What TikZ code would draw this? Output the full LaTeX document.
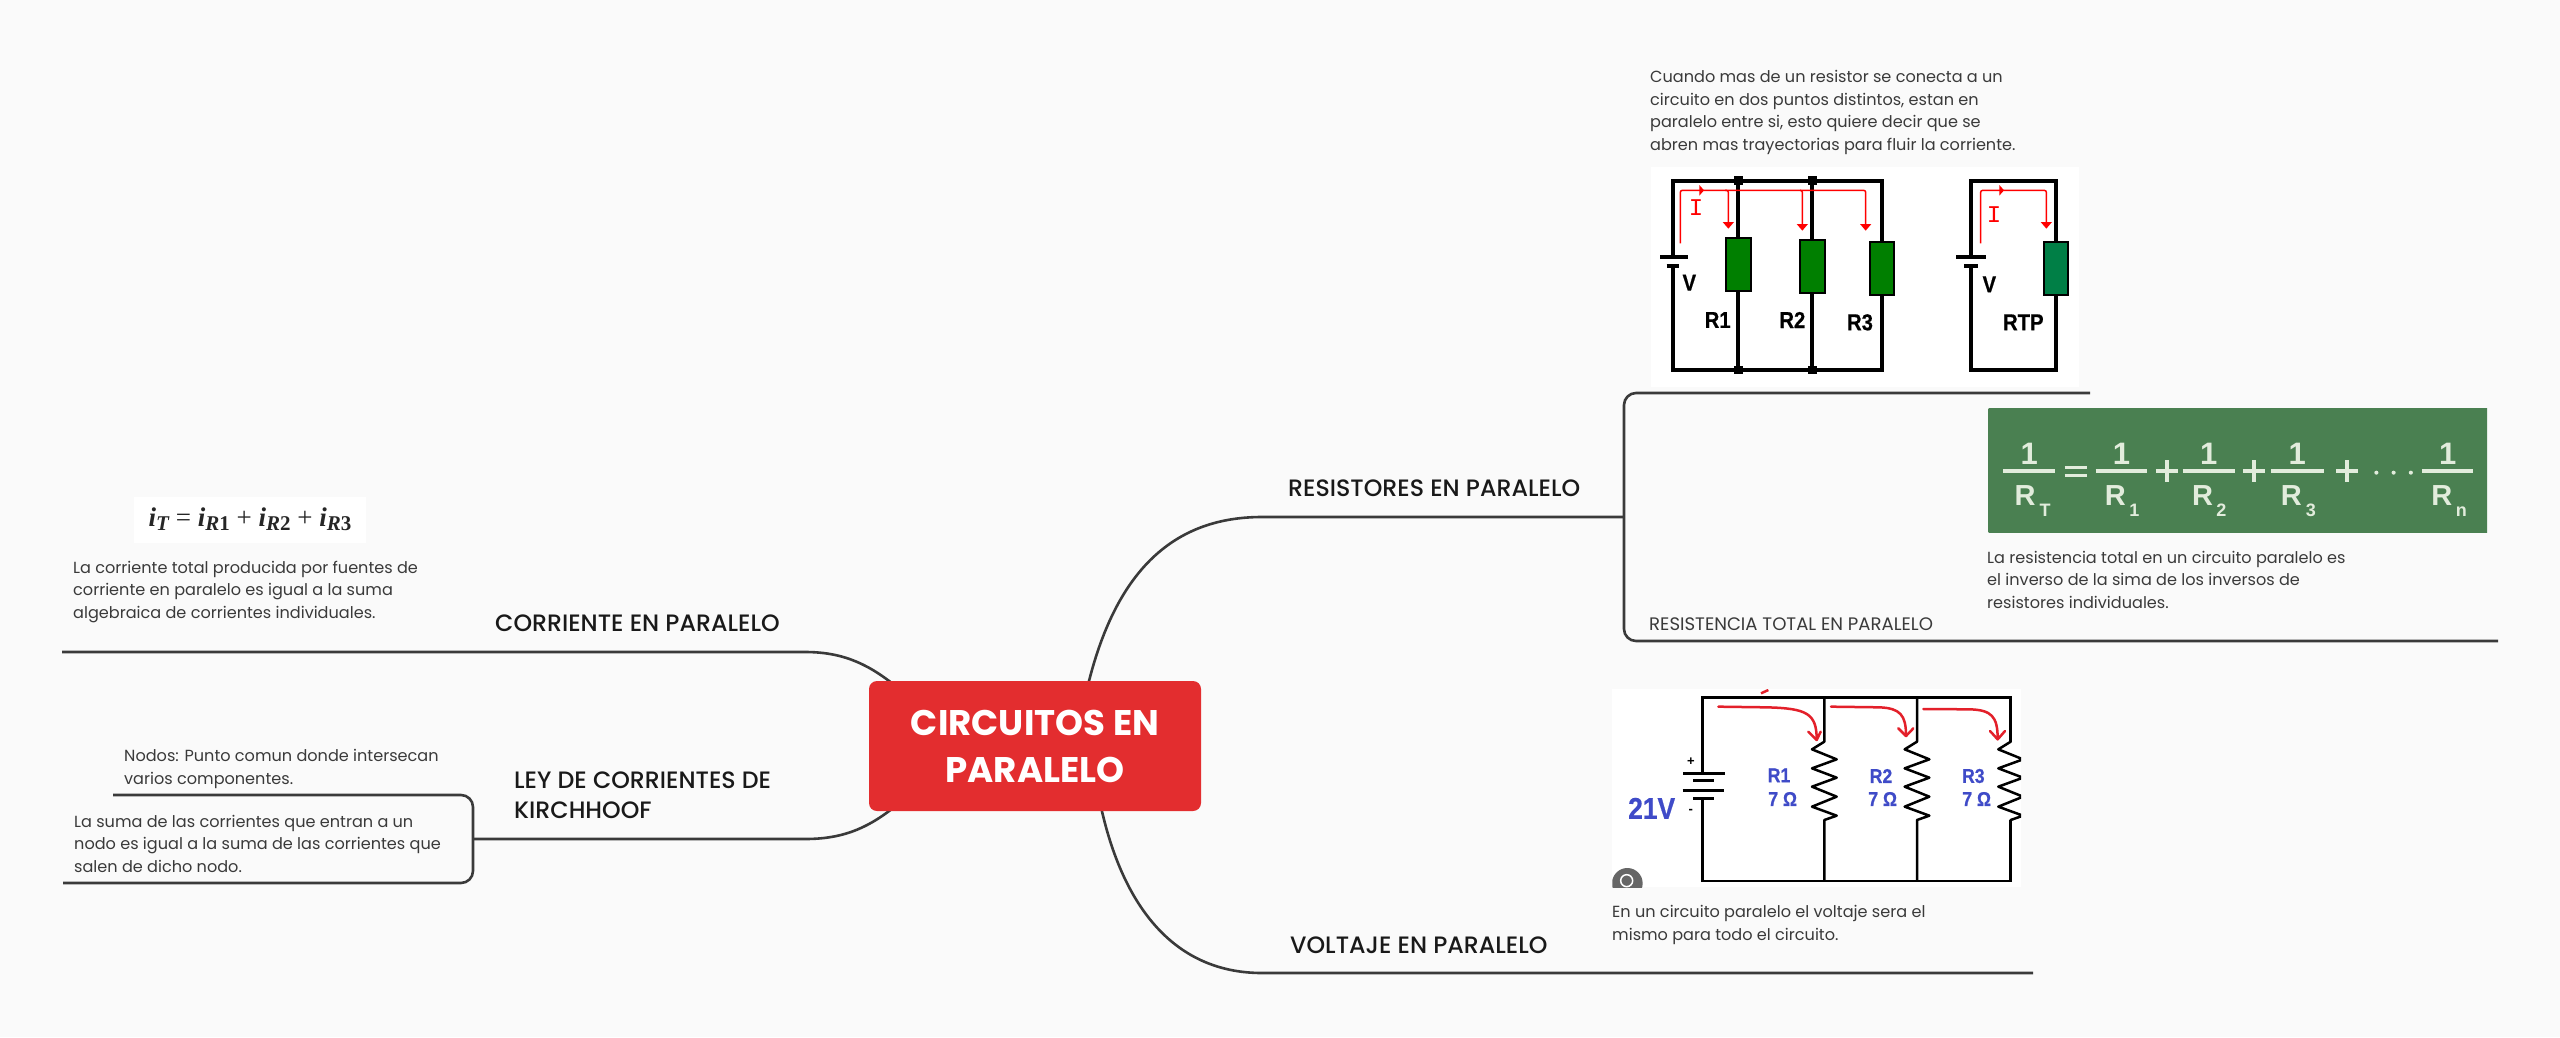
\documentclass[tikz,border=0pt]{standalone}
\usepackage{fontspec}
\setmainfont{Poppins}
\newfontfamily\medf{Poppins Medium}
\newfontfamily\circf[BoldFeatures={FakeStretch=0.88,FakeBold=0.6}]{Liberation Sans}
\newfontfamily\arialf{Liberation Sans}
\newfontfamily\timesf{Liberation Serif}
\newfontfamily\monof{Liberation Mono}
\definecolor{bgc}{HTML}{FAFAFA}
\definecolor{inkc}{HTML}{3A3A3A}
\definecolor{rootc}{HTML}{E32D2F}
\definecolor{boardc}{HTML}{4A8051}
\definecolor{boardm}{HTML}{558C5C}
\definecolor{chalkc}{HTML}{E2ECDC}
\definecolor{resc}{HTML}{007F00}
\definecolor{res2c}{HTML}{007F46}
\definecolor{bluec}{HTML}{3F4BC8}
\definecolor{arrc}{HTML}{E3202A}
\tikzset{
 branch/.style={draw=inkc,line width=2.6pt,line join=round},
 rootbox/.style={fill=rootc,rounded corners=8pt,minimum width=332pt,minimum height=130pt,inner sep=0pt,text=white,align=center,font=\fontsize{35.6}{47}\selectfont\bfseries},
 toplabel/.style={anchor=base west,inner sep=0pt,text=black!90,align=left,font=\medf\fontsize{23.7}{30}\selectfont},
 bodytxt/.style={anchor=base west,inner sep=0pt,text=inkc,align=left,font=\fontsize{16.1}{22.4}\selectfont},
 capstxt/.style={anchor=base west,inner sep=0pt,text=inkc,align=left,font=\fontsize{18.1}{22.4}\selectfont},
 imgbg/.style={fill=white,draw=none},
 wire/.style={draw=black,line width=4pt,line cap=butt},
 redline/.style={draw=red,line width=1.5pt,rounded corners=2pt},
 wire2/.style={draw=black,line width=2.5pt},
 redcurve/.style={draw=arrc,line width=2.5pt,line cap=round,line join=round},
 cirlab/.style={inner sep=0pt,font=\circf\bfseries\fontsize{23}{23}\selectfont},
 redi/.style={inner sep=0pt,text=red,font=\monof\fontsize{24}{24}\selectfont},
 bluelab/.style={inner sep=0pt,text=bluec,font=\circf\bfseries\fontsize{20}{20}\selectfont},
 chalkone/.style={inner sep=0pt,text=chalkc,font=\arialf\bfseries\fontsize{31}{31}\selectfont},
 chalkr/.style={inner sep=0pt,text=chalkc,font=\arialf\bfseries\fontsize{29}{29}\selectfont},
 chalksub/.style={inner sep=0pt,text=chalkc,font=\arialf\bfseries\fontsize{18}{18}\selectfont},
 chalkbar/.style={draw=chalkc,line width=3.5pt},
}
\newcommand{\subsz}[1]{\raisebox{-4.5pt}{\fontsize{21}{21}\selectfont #1}}
\begin{document}
\begin{tikzpicture}[x=1pt,y=-1pt]
\useasboundingbox (0,0) rectangle (2560,1037);
\fill[bgc] (0,0) rectangle (2560,1037);

% branch end points
\coordinate (rtA) at (1088,685);
\coordinate (rtB) at (1262,517);
\coordinate (rtC) at (1624,517);
\coordinate (rbA) at (1101,807);
\coordinate (rbB) at (1262,973);
\coordinate (rbC) at (2033,973);
\coordinate (ltA) at (893,684);
\coordinate (ltB) at (805,652);
\coordinate (ltC) at (62,652);
\coordinate (lbA) at (893,808);
\coordinate (lbB) at (805,839);
\coordinate (lbC) at (473,839);
\coordinate (brT) at (2090,393);
\coordinate (brB) at (2498,641);
\coordinate (blT) at (113,795);
\coordinate (blB) at (63,883);

\draw[branch] (rtA) .. controls (1115,575) and (1170,517) .. (rtB) -- (rtC);
\draw[branch] (rbA) .. controls (1125,915) and (1180,973) .. (rbB) -- (rbC);
\draw[branch] (ltA) .. controls (865,662) and (840,652) .. (ltB) -- (ltC);
\draw[branch] (lbA) .. controls (865,830) and (840,839) .. (lbB) -- (lbC);
\draw[branch,rounded corners=12pt] (brT) -- (rtC |- brT) -- (rtC |- brB) -- (brB);
\draw[branch,rounded corners=12pt] (blT) -- (lbC |- blT) -- (lbC |- blB) -- (blB);

\node[rootbox] (root) at (1035,746) {CIRCUITOS EN\hspace{9pt}\\PARALELO\hspace{9pt}};

% labels
\node[toplabel] (l1) at (1288,496) {RESISTORES EN PARALELO};
\node[toplabel] (l2) at (1290,953) {VOLTAJE EN PARALELO};
\node[toplabel] (l3) at (495,631) {CORRIENTE EN PARALELO};
\node[toplabel] (l4) at (514,818) {LEY DE CORRIENTES DE\\KIRCHHOOF};
\node[capstxt] (l5) at (1649,630) {RESISTENCIA TOTAL EN PARALELO};

% body texts
\node[bodytxt] (t1) at (1650,150) {Cuando mas de un resistor se conecta a un\\circuito en dos puntos distintos, estan en\\paralelo entre si, esto quiere decir que se\\abren mas trayectorias para fluir la corriente.};
\node[bodytxt] (t2) at (1987,608) {La resistencia total en un circuito paralelo es\\el inverso de la sima de los inversos de\\resistores individuales.};
\node[bodytxt] (t3) at (1612,940) {En un circuito paralelo el voltaje sera el\\mismo para todo el circuito.};
\node[bodytxt] (t4) at (73,618) {La corriente total producida por fuentes de\\corriente en paralelo es igual a la suma\\algebraica de corrientes individuales.};
\node[bodytxt] (t5) at (124,784) {Nodos: Punto comun donde intersecan\\varios componentes.};
\node[bodytxt] (t6) at (74,872) {La suma de las corrientes que entran a un\\nodo es igual a la suma de las corrientes que\\salen de dicho nodo.};

% current formula
\fill[white] (134,497) rectangle (366,543);
\node[inner sep=0pt,text=black!85] (fi) at (250,519) {\timesf\fontsize{27}{27}\selectfont
 \textbf{\textit{i\subsz{T}}}~=~\textbf{\textit{i\subsz{R}\subsz{\textup{1}}}}~+~\textbf{\textit{i\subsz{R}\subsz{\textup{2}}}}~+~\textbf{\textit{i\subsz{R}\subsz{\textup{3}}}}};

% circuit 1
\fill[imgbg] (1651,167) rectangle (2079,387);
\begin{scope}[shift={(1620,50)},x=0.33333pt,y=-0.33333pt]
 \draw[wire] (158,620) -- (158,392) -- (785,392) -- (785,960) -- (158,960) -- (158,648);
 \draw[wire] (355,392) -- (355,960);
 \draw[wire] (577,392) -- (577,960);
 \draw[wire] (120,620) -- (205,620);
 \draw[wire] (140,648) -- (178,648);
 \fill (342,379) rectangle (368,405);
 \fill (564,379) rectangle (590,405);
 \fill (342,947) rectangle (368,973);
 \fill (564,947) rectangle (590,973);
 \draw[fill=resc,line width=2pt] (318,565) rectangle (392,722);
 \draw[fill=resc,line width=2pt] (540,571) rectangle (614,729);
 \draw[fill=resc,line width=2pt] (749,577) rectangle (823,736);
 \draw[redline] (181,580) -- (181,421) -- (737,421) -- (737,530);
 \draw[redline] (315,421) -- (325,421) -- (325,525);
 \draw[redline] (540,421) -- (547,421) -- (547,530);
 \fill[red] (238,405) -- (252,421) -- (238,437) -- cycle;
 \fill[red] (308,516) -- (342,516) -- (325,536) -- cycle;
 \fill[red] (530,522) -- (564,522) -- (547,542) -- cycle;
 \fill[red] (720,522) -- (754,522) -- (737,542) -- cycle;
 \node[redi] (ci1) at (228,473) {I};
 \node[cirlab] (cv1) at (208,698) {V};
 \node[cirlab] (cr1) at (293,810) {R1};
 \node[cirlab] (cr2) at (517,810) {R2};
 \node[cirlab] (cr3) at (720,817) {R3};
 % second
 \draw[wire] (1053,620) -- (1053,392) -- (1308,392) -- (1308,960) -- (1053,960) -- (1053,648);
 \draw[wire] (1008,620) -- (1098,620);
 \draw[wire] (1033,648) -- (1073,648);
 \draw[fill=res2c,line width=2pt] (1271,577) rectangle (1345,736);
 \draw[redline] (1082,580) -- (1082,421) -- (1279,421) -- (1279,525);
 \fill[red] (1138,405) -- (1152,421) -- (1138,437) -- cycle;
 \fill[red] (1262,516) -- (1296,516) -- (1279,536) -- cycle;
 \node[redi] (ci2) at (1122,493) {I};
 \node[cirlab] (cv2) at (1108,703) {V};
 \node[cirlab] (cr4) at (1210,817) {RTP};
\end{scope}

% green formula
\shade[left color=boardc,middle color=boardm,right color=boardc] (1988.5,408) rectangle (2487,532);
\begin{scope}[shift={(1970,390)},x=0.34439pt,y=-0.33333pt]
 \draw[chalkbar] (97,243) -- (247,243);
 \draw[chalkbar] (365,243) -- (515,243);
 \draw[chalkbar] (617,243) -- (768,243);
 \draw[chalkbar] (875,243) -- (1027,243);
 \draw[chalkbar] (1312,243) -- (1460,243);
 \node[chalkone] (o0) at (172,192) {1};
 \node[chalkone] (o1) at (440,192) {1};
 \node[chalkone] (o2) at (693,192) {1};
 \node[chalkone] (o3) at (950,192) {1};
 \node[chalkone] (o4) at (1387,192) {1};
 \node[chalkr] (r0) at (160,316) {R};
 \node[chalkr] (r1) at (422,316) {R};
 \node[chalkr] (r2) at (675,316) {R};
 \node[chalkr] (r3) at (933,316) {R};
 \node[chalkr] (r4) at (1370,316) {R};
 \node[chalksub] (s0) at (218,362) {T};
 \node[chalksub] (s1) at (477,362) {1};
 \node[chalksub] (s2) at (730,362) {2};
 \node[chalksub] (s3) at (990,362) {3};
 \node[chalksub] (s4) at (1427,365) {n};
 \draw[chalkbar] (275,232) -- (340,232) (275,256) -- (340,256);
 \draw[chalkbar] (540,243) -- (605,243) (572,211) -- (572,275);
 \draw[chalkbar] (792,243) -- (857,243) (824,211) -- (824,275);
 \draw[chalkbar] (1063,243) -- (1128,243) (1095,211) -- (1095,275);
 \fill[chalkc] (1180,248) circle (6) (1230,248) circle (6) (1280,248) circle (6);
\end{scope}

% circuit 2
\fill[imgbg] (1612,689) rectangle (2021,887);
\begin{scope}[shift={(1600,670)},x=0.33333pt,y=-0.33333pt]
 \begin{scope}
 \clip (37,57) rectangle (1263,652);
 \fill[black!60] (82,640) circle (46);
 \draw[white,line width=1.5pt] (80,632) circle (18);
 \draw[arrc,line width=2.5pt] (483,70) -- (505,60);
 \draw[wire2] (308,310) -- (308,83) -- (1232,83) -- (1232,215);
 \draw[wire2] (308,386) -- (308,633) -- (1232,633) -- (1232,450);
 \draw[wire2] (250,310) -- (375,310) (280,332) -- (343,332) (248,362) -- (373,362) (280,386) -- (343,386);
 \foreach \xx in {673,951,1232}{
  \draw[wire2,line join=round] (\xx,83) -- (\xx,215) -- ++(-37,23) -- ++(74,30) -- ++(-74,27) -- ++(74,28) -- ++(-74,27) -- ++(74,30) -- ++(-74,30) -- ++(74,27) -- (\xx,450) -- (\xx,633);
 }
 \end{scope}
 \draw[redcurve] (355,110) -- (500,112) .. controls (620,115) and (650,130) .. (650,208);
 \draw[redcurve] (625,185) -- (650,210) -- (662,185);
 \draw[redcurve] (693,110) -- (840,112) .. controls (900,115) and (918,135) .. (918,196);
 \draw[redcurve] (895,175) -- (918,198) -- (940,175);
 \draw[redcurve] (970,117) -- (1110,118) .. controls (1175,120) and (1193,140) .. (1193,206);
 \draw[redcurve] (1170,183) -- (1193,208) -- (1215,183);
 \node[bluelab,font=\circf\bfseries\fontsize{30}{30}\selectfont] (v21) at (155,415) {21V};
 \node[inner sep=0pt,font=\arialf\bfseries\fontsize{13}{13}\selectfont] (vp) at (273,276) {+};
 \node[inner sep=0pt,font=\arialf\bfseries\fontsize{13}{13}\selectfont] (vm) at (272,424) {-};
 \node[bluelab] (b1) at (537,316) {R1};
 \node[bluelab] (b2) at (548,387) {7 Ω};
 \node[bluelab] (b3) at (843,318) {R2};
 \node[bluelab] (b4) at (848,387) {7 Ω};
 \node[bluelab] (b5) at (1120,318) {R3};
 \node[bluelab] (b6) at (1130,387) {7 Ω};
\end{scope}
\end{tikzpicture}
\end{document}
